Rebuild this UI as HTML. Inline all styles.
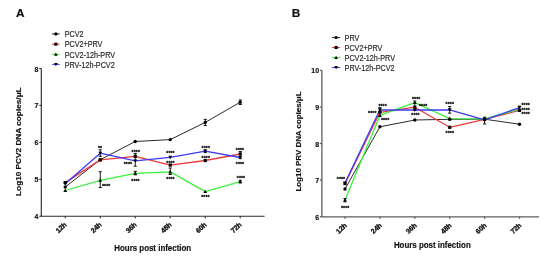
<!DOCTYPE html>
<html><head><meta charset="utf-8"><style>
html,body{margin:0;padding:0;background:#fff;}
body{width:550px;height:256px;overflow:hidden;}
svg{display:block;filter:blur(0.3px);}
text{font-family:"Liberation Sans", Arial, sans-serif;fill:#111;stroke:#111;stroke-width:0.18px;}
</style></head><body>
<svg width="550" height="256" viewBox="0 0 550 256">
<rect width="550" height="256" fill="#fff"/>
<path d="M41.3 68.5V216.25H264.6" stroke="#2e2e2e" stroke-width="1.15" fill="none"/>
<path d="M39.3 68.50H41.3" stroke="#2e2e2e" stroke-width="1.15"/>
<text font-size="7.9" font-weight="bold" text-anchor="end" transform="translate(38.50,71.50) scale(0.89,1)">8</text>
<path d="M39.3 105.44H41.3" stroke="#2e2e2e" stroke-width="1.15"/>
<text font-size="7.9" font-weight="bold" text-anchor="end" transform="translate(38.50,108.44) scale(0.89,1)">7</text>
<path d="M39.3 142.38H41.3" stroke="#2e2e2e" stroke-width="1.15"/>
<text font-size="7.9" font-weight="bold" text-anchor="end" transform="translate(38.50,145.38) scale(0.89,1)">6</text>
<path d="M39.3 179.31H41.3" stroke="#2e2e2e" stroke-width="1.15"/>
<text font-size="7.9" font-weight="bold" text-anchor="end" transform="translate(38.50,182.31) scale(0.89,1)">5</text>
<path d="M39.3 216.25H41.3" stroke="#2e2e2e" stroke-width="1.15"/>
<text font-size="7.9" font-weight="bold" text-anchor="end" transform="translate(38.50,219.25) scale(0.89,1)">4</text>
<path d="M65.25 216.25V218.25" stroke="#2e2e2e" stroke-width="1.15"/>
<text font-size="7.0" font-weight="bold" text-anchor="end" transform="translate(67.25,225.25) rotate(-43)" style="stroke-width:0.32px">12h</text>
<path d="M100.25 216.25V218.25" stroke="#2e2e2e" stroke-width="1.15"/>
<text font-size="7.0" font-weight="bold" text-anchor="end" transform="translate(102.25,225.25) rotate(-43)" style="stroke-width:0.32px">24h</text>
<path d="M135.25 216.25V218.25" stroke="#2e2e2e" stroke-width="1.15"/>
<text font-size="7.0" font-weight="bold" text-anchor="end" transform="translate(137.25,225.25) rotate(-43)" style="stroke-width:0.32px">36h</text>
<path d="M170.25 216.25V218.25" stroke="#2e2e2e" stroke-width="1.15"/>
<text font-size="7.0" font-weight="bold" text-anchor="end" transform="translate(172.25,225.25) rotate(-43)" style="stroke-width:0.32px">48h</text>
<path d="M205.25 216.25V218.25" stroke="#2e2e2e" stroke-width="1.15"/>
<text font-size="7.0" font-weight="bold" text-anchor="end" transform="translate(207.25,225.25) rotate(-43)" style="stroke-width:0.32px">60h</text>
<path d="M240.25 216.25V218.25" stroke="#2e2e2e" stroke-width="1.15"/>
<text font-size="7.0" font-weight="bold" text-anchor="end" transform="translate(242.25,225.25) rotate(-43)" style="stroke-width:0.32px">72h</text>
<text font-size="8.9" font-weight="bold" text-anchor="middle" transform="translate(152.7,251.2) scale(0.89,1)">Hours post infection</text>
<text font-size="8.25" font-weight="bold" text-anchor="middle" transform="translate(21.2,141.6) scale(0.89,1) rotate(-90)">Log10 PCV2 DNA copies/μL</text>
<text x="16.0" y="16.7" font-size="11.8" font-weight="bold">A</text>
<path d="M52.1 33.90H59.6" stroke="#2a2a2a" stroke-width="1.1"/>
<circle cx="55.85" cy="33.90" r="1.61" fill="#000"/>
<text font-size="8.3" transform="translate(64.7,37.10) scale(0.87,1)" style="fill:#2a2a2a;stroke:#2a2a2a">PCV2</text>
<path d="M52.1 44.20H59.6" stroke="#ee3a3a" stroke-width="1.1"/>
<rect x="54.33" y="42.68" width="3.04" height="3.04" fill="#000"/>
<text font-size="8.3" transform="translate(64.7,47.40) scale(0.87,1)" style="fill:#2a2a2a;stroke:#2a2a2a">PCV2+PRV</text>
<path d="M52.1 54.40H59.6" stroke="#3cf03c" stroke-width="1.1"/>
<polygon points="54.05,55.84 57.66,55.84 55.85,52.59" fill="#000"/>
<text font-size="8.3" transform="translate(64.7,57.60) scale(0.87,1)" style="fill:#2a2a2a;stroke:#2a2a2a">PCV2-12h-PRV</text>
<path d="M52.1 64.40H59.6" stroke="#3b3bf0" stroke-width="1.1"/>
<polygon points="54.05,62.96 57.66,62.96 55.85,66.21" fill="#000"/>
<text font-size="8.3" transform="translate(64.7,67.60) scale(0.87,1)" style="fill:#2a2a2a;stroke:#2a2a2a">PRV-12h-PCV2</text>
<polyline points="65.25,187.00 100.25,159.70 135.25,141.50 170.25,139.60 205.25,122.40 240.25,102.20" stroke="#2a2a2a" stroke-width="1.0" fill="none" stroke-linejoin="round"/>
<polyline points="65.25,182.60 100.25,159.90 135.25,156.30 170.25,165.10 205.25,160.50 240.25,154.00" stroke="#ee3a3a" stroke-width="1.3" fill="none" stroke-linejoin="round"/>
<polyline points="65.25,190.50 100.25,180.30 135.25,173.30 170.25,171.90 205.25,191.60 240.25,181.60" stroke="#3cf03c" stroke-width="1.3" fill="none" stroke-linejoin="round"/>
<polyline points="65.25,183.80 100.25,153.20 135.25,160.90 170.25,157.30 205.25,151.20 240.25,157.50" stroke="#3b3bf0" stroke-width="1.3" fill="none" stroke-linejoin="round"/>
<path d="M205.25 119.40V125.50M203.65 119.40H206.85M203.65 125.50H206.85" stroke="#000" stroke-width="0.9" fill="none"/>
<path d="M240.25 100.00V104.50M238.65 100.00H241.85M238.65 104.50H241.85" stroke="#000" stroke-width="0.9" fill="none"/>
<path d="M100.25 149.80V156.30M98.65 149.80H101.85M98.65 156.30H101.85" stroke="#000" stroke-width="0.9" fill="none"/>
<path d="M100.25 171.80V187.50M98.65 171.80H101.85M98.65 187.50H101.85" stroke="#000" stroke-width="0.9" fill="none"/>
<path d="M135.25 153.40V166.20M133.65 153.40H136.85M133.65 166.20H136.85" stroke="#000" stroke-width="0.9" fill="none"/>
<path d="M135.25 171.30V174.80M133.65 171.30H136.85M133.65 174.80H136.85" stroke="#000" stroke-width="0.9" fill="none"/>
<path d="M170.25 168.00V174.50M168.65 168.00H171.85M168.65 174.50H171.85" stroke="#000" stroke-width="0.9" fill="none"/>
<path d="M205.25 149.70V152.60M203.65 149.70H206.85M203.65 152.60H206.85" stroke="#000" stroke-width="0.9" fill="none"/>
<path d="M240.25 151.50V158.60M238.65 151.50H241.85M238.65 158.60H241.85" stroke="#000" stroke-width="0.9" fill="none"/>
<path d="M240.25 180.30V183.00M238.65 180.30H241.85M238.65 183.00H241.85" stroke="#000" stroke-width="0.9" fill="none"/>
<circle cx="65.25" cy="187.00" r="1.70" fill="#000"/>
<circle cx="100.25" cy="159.70" r="1.70" fill="#000"/>
<circle cx="135.25" cy="141.50" r="1.70" fill="#000"/>
<circle cx="170.25" cy="139.60" r="1.70" fill="#000"/>
<circle cx="205.25" cy="122.40" r="1.70" fill="#000"/>
<circle cx="240.25" cy="102.20" r="1.70" fill="#000"/>
<rect x="63.65" y="181.00" width="3.20" height="3.20" fill="#000"/>
<rect x="98.65" y="158.30" width="3.20" height="3.20" fill="#000"/>
<rect x="133.65" y="154.70" width="3.20" height="3.20" fill="#000"/>
<rect x="168.65" y="163.50" width="3.20" height="3.20" fill="#000"/>
<rect x="203.65" y="158.90" width="3.20" height="3.20" fill="#000"/>
<rect x="238.65" y="152.40" width="3.20" height="3.20" fill="#000"/>
<polygon points="63.35,192.02 67.15,192.02 65.25,188.60" fill="#000"/>
<polygon points="98.35,181.82 102.15,181.82 100.25,178.40" fill="#000"/>
<polygon points="133.35,174.82 137.15,174.82 135.25,171.40" fill="#000"/>
<polygon points="168.35,173.42 172.15,173.42 170.25,170.00" fill="#000"/>
<polygon points="203.35,193.12 207.15,193.12 205.25,189.70" fill="#000"/>
<polygon points="238.35,183.12 242.15,183.12 240.25,179.70" fill="#000"/>
<polygon points="63.35,182.28 67.15,182.28 65.25,185.70" fill="#000"/>
<polygon points="98.35,151.68 102.15,151.68 100.25,155.10" fill="#000"/>
<polygon points="133.35,159.38 137.15,159.38 135.25,162.80" fill="#000"/>
<polygon points="168.35,155.78 172.15,155.78 170.25,159.20" fill="#000"/>
<polygon points="203.35,149.68 207.15,149.68 205.25,153.10" fill="#000"/>
<polygon points="238.35,155.98 242.15,155.98 240.25,159.40" fill="#000"/>
<text x="100.10" y="149.50" font-size="5.0" font-weight="bold" text-anchor="middle" style="stroke-width:0.28px;letter-spacing:0.15px">**</text>
<text x="106.20" y="188.00" font-size="5.0" font-weight="bold" text-anchor="middle" style="stroke-width:0.28px;letter-spacing:0.15px">****</text>
<text x="135.80" y="154.00" font-size="5.0" font-weight="bold" text-anchor="middle" style="stroke-width:0.28px;letter-spacing:0.15px">****</text>
<text x="127.90" y="166.30" font-size="5.0" font-weight="bold" text-anchor="middle" style="stroke-width:0.28px;letter-spacing:0.15px">****</text>
<text x="135.50" y="182.90" font-size="5.0" font-weight="bold" text-anchor="middle" style="stroke-width:0.28px;letter-spacing:0.15px">****</text>
<text x="170.50" y="155.30" font-size="5.0" font-weight="bold" text-anchor="middle" style="stroke-width:0.28px;letter-spacing:0.15px">****</text>
<text x="170.50" y="164.50" font-size="5.0" font-weight="bold" text-anchor="middle" style="stroke-width:0.28px;letter-spacing:0.15px">****</text>
<text x="170.50" y="181.00" font-size="5.0" font-weight="bold" text-anchor="middle" style="stroke-width:0.28px;letter-spacing:0.15px">****</text>
<text x="205.80" y="149.70" font-size="5.0" font-weight="bold" text-anchor="middle" style="stroke-width:0.28px;letter-spacing:0.15px">****</text>
<text x="205.80" y="159.60" font-size="5.0" font-weight="bold" text-anchor="middle" style="stroke-width:0.28px;letter-spacing:0.15px">****</text>
<text x="205.40" y="199.20" font-size="5.0" font-weight="bold" text-anchor="middle" style="stroke-width:0.28px;letter-spacing:0.15px">****</text>
<text x="240.00" y="152.10" font-size="5.0" font-weight="bold" text-anchor="middle" style="stroke-width:0.28px;letter-spacing:0.15px">****</text>
<text x="240.00" y="165.90" font-size="5.0" font-weight="bold" text-anchor="middle" style="stroke-width:0.28px;letter-spacing:0.15px">****</text>
<text x="241.00" y="179.90" font-size="5.0" font-weight="bold" text-anchor="middle" style="stroke-width:0.28px;letter-spacing:0.15px">****</text>
<path d="M321.9 70.4V216.8H539.1" stroke="#5e5e5e" stroke-width="1.3" fill="none"/>
<path d="M319.9 70.40H321.9" stroke="#5e5e5e" stroke-width="1.3"/>
<text font-size="7.9" font-weight="bold" text-anchor="end" transform="translate(319.10,73.40) scale(0.89,1)">10</text>
<path d="M319.9 106.95H321.9" stroke="#5e5e5e" stroke-width="1.3"/>
<text font-size="7.9" font-weight="bold" text-anchor="end" transform="translate(319.10,109.95) scale(0.89,1)">9</text>
<path d="M319.9 143.50H321.9" stroke="#5e5e5e" stroke-width="1.3"/>
<text font-size="7.9" font-weight="bold" text-anchor="end" transform="translate(319.10,146.50) scale(0.89,1)">8</text>
<path d="M319.9 180.05H321.9" stroke="#5e5e5e" stroke-width="1.3"/>
<text font-size="7.9" font-weight="bold" text-anchor="end" transform="translate(319.10,183.05) scale(0.89,1)">7</text>
<path d="M319.9 216.60H321.9" stroke="#5e5e5e" stroke-width="1.3"/>
<text font-size="7.9" font-weight="bold" text-anchor="end" transform="translate(319.10,219.60) scale(0.89,1)">6</text>
<path d="M345.00 216.8V218.8" stroke="#5e5e5e" stroke-width="1.3"/>
<text font-size="7.0" font-weight="bold" text-anchor="end" transform="translate(347.50,226.00) rotate(-43)" style="stroke-width:0.32px">12h</text>
<path d="M379.90 216.8V218.8" stroke="#5e5e5e" stroke-width="1.3"/>
<text font-size="7.0" font-weight="bold" text-anchor="end" transform="translate(382.40,226.00) rotate(-43)" style="stroke-width:0.32px">24h</text>
<path d="M414.80 216.8V218.8" stroke="#5e5e5e" stroke-width="1.3"/>
<text font-size="7.0" font-weight="bold" text-anchor="end" transform="translate(417.30,226.00) rotate(-43)" style="stroke-width:0.32px">36h</text>
<path d="M449.70 216.8V218.8" stroke="#5e5e5e" stroke-width="1.3"/>
<text font-size="7.0" font-weight="bold" text-anchor="end" transform="translate(452.20,226.00) rotate(-43)" style="stroke-width:0.32px">48h</text>
<path d="M484.60 216.8V218.8" stroke="#5e5e5e" stroke-width="1.3"/>
<text font-size="7.0" font-weight="bold" text-anchor="end" transform="translate(487.10,226.00) rotate(-43)" style="stroke-width:0.32px">60h</text>
<path d="M519.50 216.8V218.8" stroke="#5e5e5e" stroke-width="1.3"/>
<text font-size="7.0" font-weight="bold" text-anchor="end" transform="translate(522.00,226.00) rotate(-43)" style="stroke-width:0.32px">72h</text>
<text font-size="8.9" font-weight="bold" text-anchor="middle" transform="translate(432.3,248.3) scale(0.89,1)">Hours post infection</text>
<text font-size="7.95" font-weight="bold" text-anchor="middle" transform="translate(300.7,141.5) scale(0.89,1) rotate(-90)">Log10 PRV DNA copies/μL</text>
<text x="291.8" y="16.9" font-size="11.8" font-weight="bold">B</text>
<path d="M332.1 37.50H340.1" stroke="#2a2a2a" stroke-width="1.1"/>
<circle cx="336.10" cy="37.50" r="1.61" fill="#000"/>
<text font-size="8.3" transform="translate(344.6,40.70) scale(0.87,1)" style="fill:#2a2a2a;stroke:#2a2a2a">PRV</text>
<path d="M332.1 47.50H340.1" stroke="#ee3a3a" stroke-width="1.1"/>
<rect x="334.58" y="45.98" width="3.04" height="3.04" fill="#000"/>
<text font-size="8.3" transform="translate(344.6,50.70) scale(0.87,1)" style="fill:#2a2a2a;stroke:#2a2a2a">PCV2+PRV</text>
<path d="M332.1 57.60H340.1" stroke="#3cf03c" stroke-width="1.1"/>
<polygon points="334.30,59.04 337.91,59.04 336.10,55.80" fill="#000"/>
<text font-size="8.3" transform="translate(344.6,60.80) scale(0.87,1)" style="fill:#2a2a2a;stroke:#2a2a2a">PCV2-12h-PRV</text>
<path d="M332.1 67.50H340.1" stroke="#3b3bf0" stroke-width="1.1"/>
<polygon points="334.30,66.06 337.91,66.06 336.10,69.31" fill="#000"/>
<text font-size="8.3" transform="translate(344.6,70.70) scale(0.87,1)" style="fill:#2a2a2a;stroke:#2a2a2a">PRV-12h-PCV2</text>
<polyline points="345.00,189.00 379.90,126.80 414.80,120.00 449.70,119.30 484.60,119.20 519.50,124.20" stroke="#2a2a2a" stroke-width="1.0" fill="none" stroke-linejoin="round"/>
<polyline points="345.00,183.60 379.90,112.30 414.80,107.20 449.70,127.30 484.60,119.40 519.50,110.40" stroke="#ee3a3a" stroke-width="1.3" fill="none" stroke-linejoin="round"/>
<polyline points="345.00,200.10 379.90,115.40 414.80,102.60 449.70,118.70 484.60,118.80 519.50,109.20" stroke="#3cf03c" stroke-width="1.3" fill="none" stroke-linejoin="round"/>
<polyline points="345.00,183.00 379.90,109.80 414.80,110.00 449.70,109.80 484.60,119.80 519.50,107.70" stroke="#3b3bf0" stroke-width="1.3" fill="none" stroke-linejoin="round"/>
<path d="M345.00 198.60V201.80M343.40 198.60H346.60M343.40 201.80H346.60" stroke="#000" stroke-width="0.9" fill="none"/>
<path d="M379.90 107.60V112.00M378.30 107.60H381.50M378.30 112.00H381.50" stroke="#000" stroke-width="0.9" fill="none"/>
<path d="M414.80 101.00V110.50M413.20 101.00H416.40M413.20 110.50H416.40" stroke="#000" stroke-width="0.9" fill="none"/>
<path d="M449.70 106.60V113.20M448.10 106.60H451.30M448.10 113.20H451.30" stroke="#000" stroke-width="0.9" fill="none"/>
<path d="M484.60 117.20V124.00M483.00 117.20H486.20M483.00 124.00H486.20" stroke="#000" stroke-width="0.9" fill="none"/>
<path d="M519.50 106.10V110.00M517.90 106.10H521.10M517.90 110.00H521.10" stroke="#000" stroke-width="0.9" fill="none"/>
<circle cx="345.00" cy="189.00" r="1.70" fill="#000"/>
<circle cx="379.90" cy="126.80" r="1.70" fill="#000"/>
<circle cx="414.80" cy="120.00" r="1.70" fill="#000"/>
<circle cx="449.70" cy="119.30" r="1.70" fill="#000"/>
<circle cx="484.60" cy="119.20" r="1.70" fill="#000"/>
<circle cx="519.50" cy="124.20" r="1.70" fill="#000"/>
<rect x="343.40" y="182.00" width="3.20" height="3.20" fill="#000"/>
<rect x="378.30" y="110.70" width="3.20" height="3.20" fill="#000"/>
<rect x="413.20" y="105.60" width="3.20" height="3.20" fill="#000"/>
<rect x="448.10" y="125.70" width="3.20" height="3.20" fill="#000"/>
<rect x="483.00" y="117.80" width="3.20" height="3.20" fill="#000"/>
<rect x="517.90" y="108.80" width="3.20" height="3.20" fill="#000"/>
<polygon points="343.10,201.62 346.90,201.62 345.00,198.20" fill="#000"/>
<polygon points="378.00,116.92 381.80,116.92 379.90,113.50" fill="#000"/>
<polygon points="412.90,104.12 416.70,104.12 414.80,100.70" fill="#000"/>
<polygon points="447.80,120.22 451.60,120.22 449.70,116.80" fill="#000"/>
<polygon points="482.70,120.32 486.50,120.32 484.60,116.90" fill="#000"/>
<polygon points="517.60,110.72 521.40,110.72 519.50,107.30" fill="#000"/>
<polygon points="343.10,181.48 346.90,181.48 345.00,184.90" fill="#000"/>
<polygon points="378.00,108.28 381.80,108.28 379.90,111.70" fill="#000"/>
<polygon points="412.90,108.48 416.70,108.48 414.80,111.90" fill="#000"/>
<polygon points="447.80,108.28 451.60,108.28 449.70,111.70" fill="#000"/>
<polygon points="482.70,118.28 486.50,118.28 484.60,121.70" fill="#000"/>
<polygon points="517.60,106.18 521.40,106.18 519.50,109.60" fill="#000"/>
<text x="341.00" y="181.40" font-size="5.0" font-weight="bold" text-anchor="middle" style="stroke-width:0.28px;letter-spacing:0.15px">****</text>
<text x="345.20" y="209.70" font-size="5.0" font-weight="bold" text-anchor="middle" style="stroke-width:0.28px;letter-spacing:0.15px">****</text>
<text x="382.60" y="107.70" font-size="5.0" font-weight="bold" text-anchor="middle" style="stroke-width:0.28px;letter-spacing:0.15px">****</text>
<text x="372.30" y="114.50" font-size="5.0" font-weight="bold" text-anchor="middle" style="stroke-width:0.28px;letter-spacing:0.15px">****</text>
<text x="385.10" y="122.10" font-size="5.0" font-weight="bold" text-anchor="middle" style="stroke-width:0.28px;letter-spacing:0.15px">****</text>
<text x="416.20" y="100.90" font-size="5.0" font-weight="bold" text-anchor="middle" style="stroke-width:0.28px;letter-spacing:0.15px">****</text>
<text x="423.20" y="108.40" font-size="5.0" font-weight="bold" text-anchor="middle" style="stroke-width:0.28px;letter-spacing:0.15px">****</text>
<text x="415.50" y="116.90" font-size="5.0" font-weight="bold" text-anchor="middle" style="stroke-width:0.28px;letter-spacing:0.15px">****</text>
<text x="449.80" y="105.70" font-size="5.0" font-weight="bold" text-anchor="middle" style="stroke-width:0.28px;letter-spacing:0.15px">****</text>
<text x="449.80" y="134.70" font-size="5.0" font-weight="bold" text-anchor="middle" style="stroke-width:0.28px;letter-spacing:0.15px">****</text>
<text x="525.70" y="106.80" font-size="5.0" font-weight="bold" text-anchor="middle" style="stroke-width:0.28px;letter-spacing:0.15px">****</text>
<text x="525.70" y="112.00" font-size="5.0" font-weight="bold" text-anchor="middle" style="stroke-width:0.28px;letter-spacing:0.15px">****</text>
<text x="525.70" y="115.90" font-size="5.0" font-weight="bold" text-anchor="middle" style="stroke-width:0.28px;letter-spacing:0.15px">****</text>
</svg>
</body></html>
